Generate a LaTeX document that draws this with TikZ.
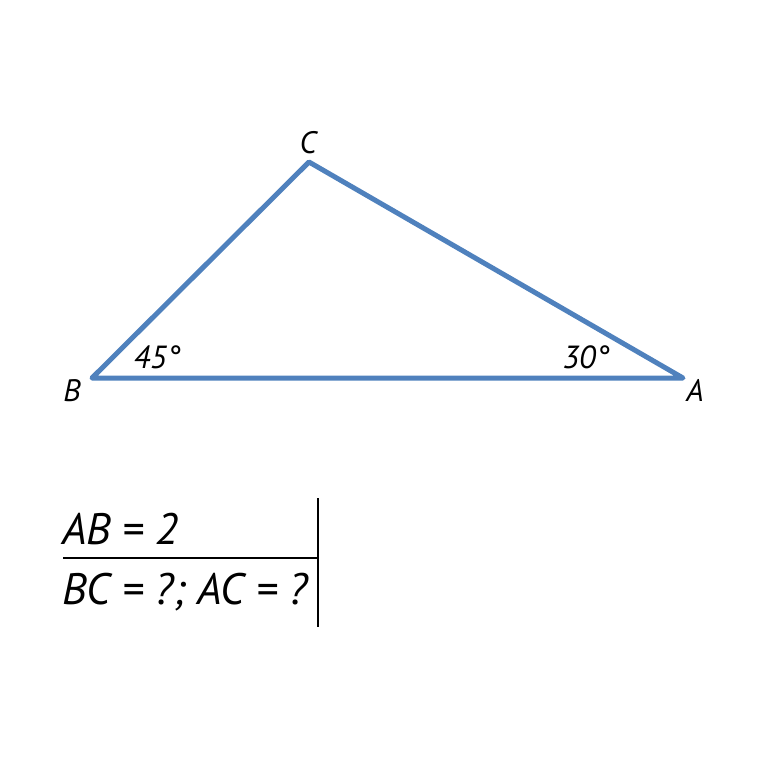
\documentclass[tikz,border=0pt]{standalone}
\usepackage{fontspec}
\setmainfont{PT Sans}
\usepackage{xcolor}
\definecolor{edgeblue}{HTML}{4F81BD}

\begin{document}
\begin{tikzpicture}[
    x=1pt, y=-1pt,
    side/.style={
        draw=edgeblue,
        line width=5pt,
        line join=round,
        line cap=round,
    },
    vlabel/.style={
        font=\fontsize{31}{31}\selectfont\itshape,
        inner sep=0pt,
    },
    anglabel/.style={
        font=\fontsize{32}{32}\selectfont\itshape,
        inner sep=0pt,
    },
    given/.style={
        font=\fontsize{44}{44}\selectfont\itshape,
        inner sep=0pt,
        anchor=west,
    },
    rule/.style={
        draw=black,
        line width=2.6pt,
    },
]

\useasboundingbox (0, 0) rectangle (768, 768);

% Triangle
\coordinate (B) at (92, 378);
\coordinate (C) at (309, 162);
\coordinate (A) at (683, 378);
\draw[side] (B) -- (C) -- (A) -- cycle;

% Vertex and angle labels
\node[vlabel] (lC) at (308, 143) {C};
\node[vlabel] (lB) at (72, 391) {B};
\node[vlabel] (lA) at (695, 390) {A};
\node[anglabel] (aB) at (157, 357) {45°};
\node[anglabel] (aA) at (586, 357) {30°};

% Given and asked
\node[given] (known) at (62, 529) {AB = 2};
\node[given] (asked) at (62, 592) {BC = ?; AC = ?};
\coordinate (hl) at (63, 558);
\coordinate (hr) at (318, 558);
\coordinate (vt) at (318, 498);
\coordinate (vb) at (318, 627);
\draw[rule] (hl) -- (hr);
\draw[rule] (vt) -- (vb);

\end{tikzpicture}
\end{document}
